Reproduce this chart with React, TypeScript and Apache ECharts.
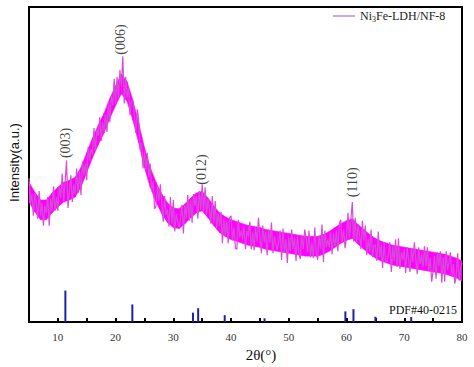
import React, { useEffect, useRef } from 'react';
import * as echarts from 'echarts';

// XRD scan of Ni3Fe-LDH/NF-8, 2θ from 5° to 80°, step 0.25° (a.u.)
const seriesName = 'Ni3Fe-LDH/NF-8';
const scanStart = 5;
const scanStep = 0.25;
const intensity: number[] = [
  146, 120, 130, 108, // 5
  131, 121, 105, 133, // 6
  108, 121, 98, 118, // 7
  111, 127, 98, 126, // 8
  113, 138, 113, 127, // 9
  113, 138, 126, 151, // 10
  123, 141, 164, 116, // 11
  133, 149, 122, 140, // 12
  130, 156, 131, 153, // 13
  129, 163, 149, 161, // 14
  144, 178, 164, 176, // 15
  170, 197, 174, 196, // 16
  189, 208, 184, 203, // 17
  193, 211, 193, 224, // 18
  203, 230, 220, 247, // 19
  222, 249, 226, 256, // 20
  239, 270, 222, 249, // 21
  228, 238, 210, 225, // 22
  224, 211, 192, 216, // 23
  206, 175, 182, 156, // 24
  173, 154, 172, 147, // 25
  161, 133, 143, 115, // 26
  118, 139, 123, 140, // 27
  121, 102, 128, 109, // 28
  114, 97, 127, 100, // 29
  124, 92, 110, 102, // 30
  96, 105, 119, 90, // 31
  119, 105, 129, 103, // 32
  124, 101, 130, 118, // 33
  128, 105, 133, 114, // 34
  140, 112, 137, 109, // 35
  125, 115, 100, 128, // 36
  101, 123, 94, 111, // 37
  98, 112, 80, 105, // 38
  88, 102, 80, 106, // 39
  108, 83, 96, 75, // 40
  74, 104, 86, 93, // 41
  84, 97, 74, 93, // 42
  87, 102, 74, 91, // 43
  73, 96, 82, 106, // 44
  87, 70, 98, 81, // 45
  92, 68, 94, 81, // 46
  101, 70, 87, 79, // 47
  73, 81, 93, 63, // 48
  95, 71, 84, 60, // 49
  86, 72, 94, 74, // 50
  86, 62, 88, 69, // 51
  64, 88, 74, 94, // 52
  86, 71, 93, 66, // 53
  80, 65, 96, 70, // 54
  63, 88, 74, 99, // 55
  61, 93, 76, 84, // 56
  76, 91, 69, 90, // 57
  77, 93, 72, 100, // 58
  104, 81, 94, 75, // 59
  86, 111, 85, 104, // 60
  122, 82, 106, 80, // 61
  98, 89, 74, 103, // 62
  83, 98, 68, 84, // 63
  71, 94, 66, 78, // 64
  78, 62, 92, 66, // 65
  79, 55, 81, 62, // 66
  61, 69, 81, 51, // 67
  77, 62, 84, 56, // 68
  85, 54, 71, 63, // 69
  74, 50, 76, 63, // 70
  51, 75, 61, 81, // 71
  65, 49, 76, 59, // 72
  69, 55, 77, 57, // 73
  76, 52, 65, 41, // 74
  52, 67, 44, 71, // 75
  57, 72, 40, 66, // 76
  41, 72, 53, 61, // 77
  71, 47, 59, 39, // 78
  47, 70, 42, 55, // 79
  60, // 80
];

// Dense core of the noisy trace (lower / upper edge), read at 1° steps from 5° to 80°
const bandStep = 1;
const bandLower: number[] = [
  122, 112, 104, 104, 111, 117, 122, 124, 127, 137,
  152, 167, 180, 192, 207, 220, 232, 224, 205, 182,
  157, 137, 122, 110, 101, 96, 95, 100, 106, 111,
  113, 106, 98, 91, 87, 84, 82, 80, 78, 77,
  76, 74, 73, 72, 71, 70, 69, 68, 67, 67,
  67, 69, 72, 76, 80, 83, 85, 79, 74, 69,
  65, 62, 60, 58, 57, 56, 55, 54, 53, 52,
  51, 50, 49, 47, 45, 42,
];
const bandUpper: number[] = [
  142, 132, 124, 124, 131, 137, 142, 144, 147, 157,
  172, 187, 200, 212, 227, 240, 252, 244, 225, 202,
  177, 157, 142, 130, 121, 116, 115, 120, 126, 131,
  133, 126, 118, 111, 107, 104, 102, 100, 98, 97,
  96, 94, 93, 92, 91, 90, 89, 88, 87, 87,
  87, 89, 92, 96, 100, 103, 105, 99, 94, 89,
  85, 82, 80, 78, 77, 76, 75, 74, 73, 72,
  71, 70, 69, 67, 65, 62,
];

// PDF#40-0215 reference lines (2θ, relative intensity)
const pdfName = 'PDF#40-0215';
const pdfAngles = [11.3, 22.9, 33.4, 34.3, 38.9, 45.8, 59.8, 61.2, 65.0, 71.2];
const pdfIntensity = [100, 56, 30, 44, 22, 12, 34, 41, 17, 16];

// Peak index labels
const peakLabels = ['(003)', '(006)', '(012)', '(110)'];
const peakAngles = [11.4, 20.9, 34.9, 61.0];
const peakLabelHeights = [182, 287, 155, 142];

const serif = "'Liberation Serif', 'Times New Roman', serif";
const sans = "'Liberation Sans', Arial, sans-serif";

export default function App() {
  const ref = useRef<HTMLDivElement>(null);
  useEffect(() => {
    if (!ref.current) return;
    const chart = echarts.init(ref.current, undefined, { renderer: 'svg' });
    const bandX = bandLower.map((_, i) => scanStart + i * bandStep);
    const bandData = bandLower.map((v, i) => [bandX[i], v, bandUpper[i]]);
    const option: any = {
      animation: false,
      grid: {
        left: 25,
        right: 12,
        top: 7,
        bottom: 40,
        show: true,
        borderColor: '#000',
        borderWidth: 2,
        backgroundColor: 'transparent',
      },
      legend: {
        data: [seriesName],
        left: 333,
        top: 10,
        padding: 0,
        icon: 'rect',
        itemWidth: 22,
        itemHeight: 1.5,
        itemGap: 6,
        itemStyle: { color: '#c98bc9' },
        formatter: () => '{n|Ni}{s|3}{n|Fe-LDH/NF-8}',
        textStyle: {
          fontFamily: serif,
          fontSize: 12,
          color: '#222',
          rich: {
            n: { fontFamily: serif, fontSize: 12, color: '#222' },
            s: { fontFamily: serif, fontSize: 8, color: '#222', padding: [6, 0, 0, 0] },
          },
        },
      },
      xAxis: {
        type: 'value',
        min: 5,
        max: 80,
        interval: 5,
        axisLine: { show: true, onZero: false, lineStyle: { color: '#000', width: 2 } },
        axisTick: { show: true, inside: true, length: 4, lineStyle: { color: '#000', width: 2 } },
        splitLine: { show: false },
        axisLabel: {
          formatter: (v: number) => (v % 10 === 0 ? String(v) : ''),
          color: '#333',
          fontFamily: serif,
          fontSize: 11,
          margin: 9,
          showMaxLabel: true,
        },
        name: '2θ(°)',
        nameLocation: 'middle',
        nameGap: 20,
        nameTextStyle: { fontFamily: serif, fontSize: 15, color: '#111', padding: [0, 0, 0, 31] },
      },
      yAxis: [
        {
          type: 'value',
          min: 0,
          max: 320,
          axisLine: { show: true, lineStyle: { color: '#000', width: 2 } },
          axisTick: { show: false },
          axisLabel: { show: false },
          splitLine: { show: false },
          name: 'Intensity(a.u.)',
          nameLocation: 'middle',
          nameGap: 8,
          nameTextStyle: { fontFamily: sans, fontSize: 13, color: '#111', padding: [0, 0, 0, 4] },
        },
        { type: 'value', min: 0, max: 1000, show: false },
      ],
      series: [
        {
          name: 'band-core',
          type: 'custom',
          data: bandData,
          encode: { x: 0, y: [1, 2] },
          silent: true,
          clip: true,
          z: 2,
          renderItem: (params: any, api: any) => {
            const i = params.dataIndex;
            if (i >= bandData.length - 1) return null;
            const a = bandData[i];
            const b = bandData[i + 1];
            const pts = [
              api.coord([a[0], a[1]]),
              api.coord([b[0], b[1]]),
              api.coord([b[0], b[2]]),
              api.coord([a[0], a[2]]),
            ];
            return {
              type: 'polygon',
              shape: { points: pts },
              style: { fill: '#ff00ff', stroke: '#ff00ff', lineWidth: 0.6 },
            };
          },
        },
        {
          name: seriesName,
          type: 'line',
          data: intensity.map((v, i) => [scanStart + i * scanStep, v]),
          symbol: 'none',
          lineStyle: { color: '#d84ad8', width: 1.2 },
          itemStyle: { color: '#d84ad8' },
          z: 3,
        },
        {
          name: pdfName,
          type: 'bar',
          yAxisIndex: 1,
          data: pdfAngles.map((a, i) => [a, pdfIntensity[i]]),
          barWidth: 2,
          itemStyle: { color: '#1f1fa8' },
          z: 4,
        },
        {
          name: 'peaks',
          type: 'scatter',
          data: peakAngles.map((a, i) => [a, peakLabelHeights[i]]),
          symbolSize: 0,
          silent: true,
          label: {
            show: true,
            position: 'inside',
            rotate: 90,
            formatter: (p: any) => peakLabels[p.dataIndex],
            fontFamily: serif,
            fontSize: 14,
            color: '#111',
          },
          z: 5,
        },
      ],
      graphic: [
        {
          type: 'text',
          right: 17,
          top: 304,
          style: { text: pdfName, font: `12px ${serif}`, fill: '#111' },
        },
      ],
    };
    chart.setOption(option);
    return () => chart.dispose();
  }, []);
  return (
    <div
      ref={ref}
      style={{ position: 'absolute', left: 0, top: 0, width: 474, height: 367, background: '#fff' }}
    />
  );
}
